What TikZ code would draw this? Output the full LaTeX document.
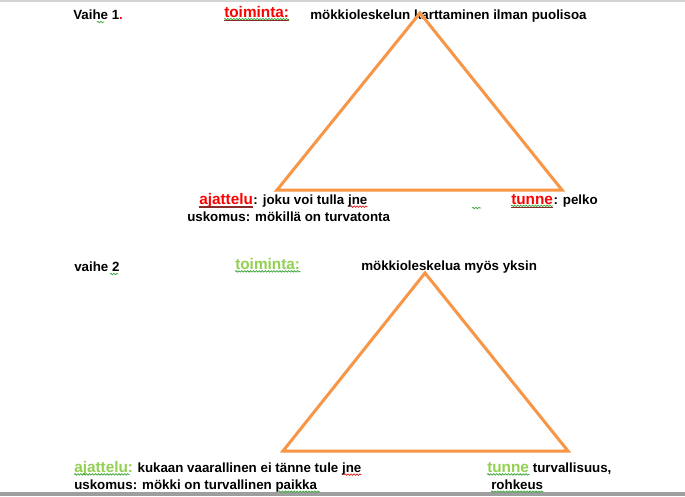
\documentclass[tikz,border=0pt]{standalone}
\usepackage{fontspec}
\setmainfont{Liberation Sans}
\usetikzlibrary{decorations.pathmorphing}
\definecolor{tricol}{HTML}{F79646}
\definecolor{lgreen}{HTML}{92D050}
\definecolor{dred}{HTML}{8B2A2A}
\definecolor{sqgreen}{HTML}{3DA53D}
\definecolor{sqred}{HTML}{E02020}
\newcommand\bigw{\fontsize{11.5}{13}\selectfont}
\begin{document}
\begin{tikzpicture}[x=0.75pt,y=-0.75pt,
  txt/.style={anchor=base west,inner sep=0pt,font=\bfseries\fontsize{10}{12}\selectfont},
  bigtxt/.style={anchor=base west,inner sep=0pt,font=\bfseries\bigw},
  trishape/.style={draw=tricol,line width=2.25pt,line join=miter},
  uline/.style={draw=dred,line width=1.1pt},
  squig/.style={draw=#1,line width=0.55pt,decorate,decoration={snake,amplitude=0.55pt,segment length=2.2pt}},
]
\useasboundingbox (0,0) rectangle (685,496);
\fill[white] (0,0) rectangle (685,496);
% frame artefacts
\fill[black!17] (0,0) rectangle (685,1.5);
\fill[black!38] (0,492) rectangle (685,496);

% ---------------- Vaihe 1 ----------------
\node[txt] (v1) at (73,19) {Vaihe 1\textcolor{red}{.}};
\draw[squig=sqgreen] (97,22) -- (104,22);
\node[bigtxt,text=red] (t1) at (224,17) {toiminta:};
\draw[squig=sqgreen] ([yshift=-1.6pt]t1.base west) -- ([yshift=-1.6pt]t1.base east);
\draw[uline] ([yshift=-2.8pt]t1.base west) -- ([yshift=-2.8pt]t1.base east);
\node[txt] (a1) at (310,19) {mökkioleskelun karttaminen ilman puolisoa};

\coordinate (p1) at (420,13);
\coordinate (q1) at (277,190);
\coordinate (r1) at (562,190);
\draw[trishape] (p1) -- (q1) -- (r1) -- cycle;

\node[bigtxt,text=red] (j1) at (199,204) {ajattelu};
\draw[uline] ([yshift=-2.4pt]j1.base west) -- ([yshift=-2.4pt]j1.base east);
\node[txt] (j1b) at (j1.base east) {: joku voi tulla jne};
\draw[squig=sqred] ([xshift=-13pt,yshift=-2pt]j1b.base east) -- ([yshift=-2pt]j1b.base east);
\draw[squig=sqgreen] (472,208) -- (481,208);
\node[bigtxt,text=red] (f1) at (511,204) {tunne};
\draw[squig=sqgreen] ([yshift=-1.4pt]f1.base west) -- ([yshift=-1.4pt]f1.base east);
\draw[uline] ([yshift=-2.6pt]f1.base west) -- ([yshift=-2.6pt]f1.base east);
\node[txt] (f1b) at (f1.base east) {: pelko};
\node[txt] (u1) at (187,221) {uskomus: mökillä on turvatonta};

% ---------------- vaihe 2 ----------------
\node[txt] (v2) at (74,271) {vaihe 2};
\draw[squig=sqgreen] (110,274) -- (118,274);
\node[bigtxt,text=lgreen] (t2) at (235,269) {toiminta:};
\draw[squig=sqgreen] ([yshift=-1.8pt]t2.base west) -- ([yshift=-1.8pt]t2.base east);
\node[txt] (a2) at (361,270) {mökkioleskelua myös yksin};

\coordinate (p2) at (425,273);
\coordinate (q2) at (283,451);
\coordinate (r2) at (568,451);
\draw[trishape] (p2) -- (q2) -- (r2) -- cycle;

\node[bigtxt,text=lgreen] (j2) at (74,472) {ajattelu:};
\draw[squig=sqgreen] ([yshift=-1.8pt]j2.base west) -- ([xshift=-3pt,yshift=-1.8pt]j2.base east);
\node[txt] (j2b) at ([xshift=3pt]j2.base east) {kukaan vaarallinen ei tänne tule jne};
\draw[squig=sqred] ([xshift=-13pt,yshift=-2pt]j2b.base east) -- ([yshift=-2pt]j2b.base east);
\node[txt] (u2) at (74,489) {uskomus: mökki on turvallinen paikka};
\draw[squig=sqgreen] ([xshift=-29pt,yshift=-2pt]u2.base east) -- ([xshift=2pt,yshift=-2pt]u2.base east);
\node[bigtxt,text=lgreen] (f2) at (487,472) {tunne};
\draw[squig=sqgreen] ([yshift=-1.8pt]f2.base west) -- ([yshift=-1.8pt]f2.base east);
\node[txt] (f2b) at ([xshift=2.5pt]f2.base east) {turvallisuus,};
\node[txt] (g2) at (491,489) {rohkeus};
\draw[squig=sqgreen] ([yshift=-2pt]g2.base west) -- ([yshift=-2pt]g2.base east);
\end{tikzpicture}
\end{document}
